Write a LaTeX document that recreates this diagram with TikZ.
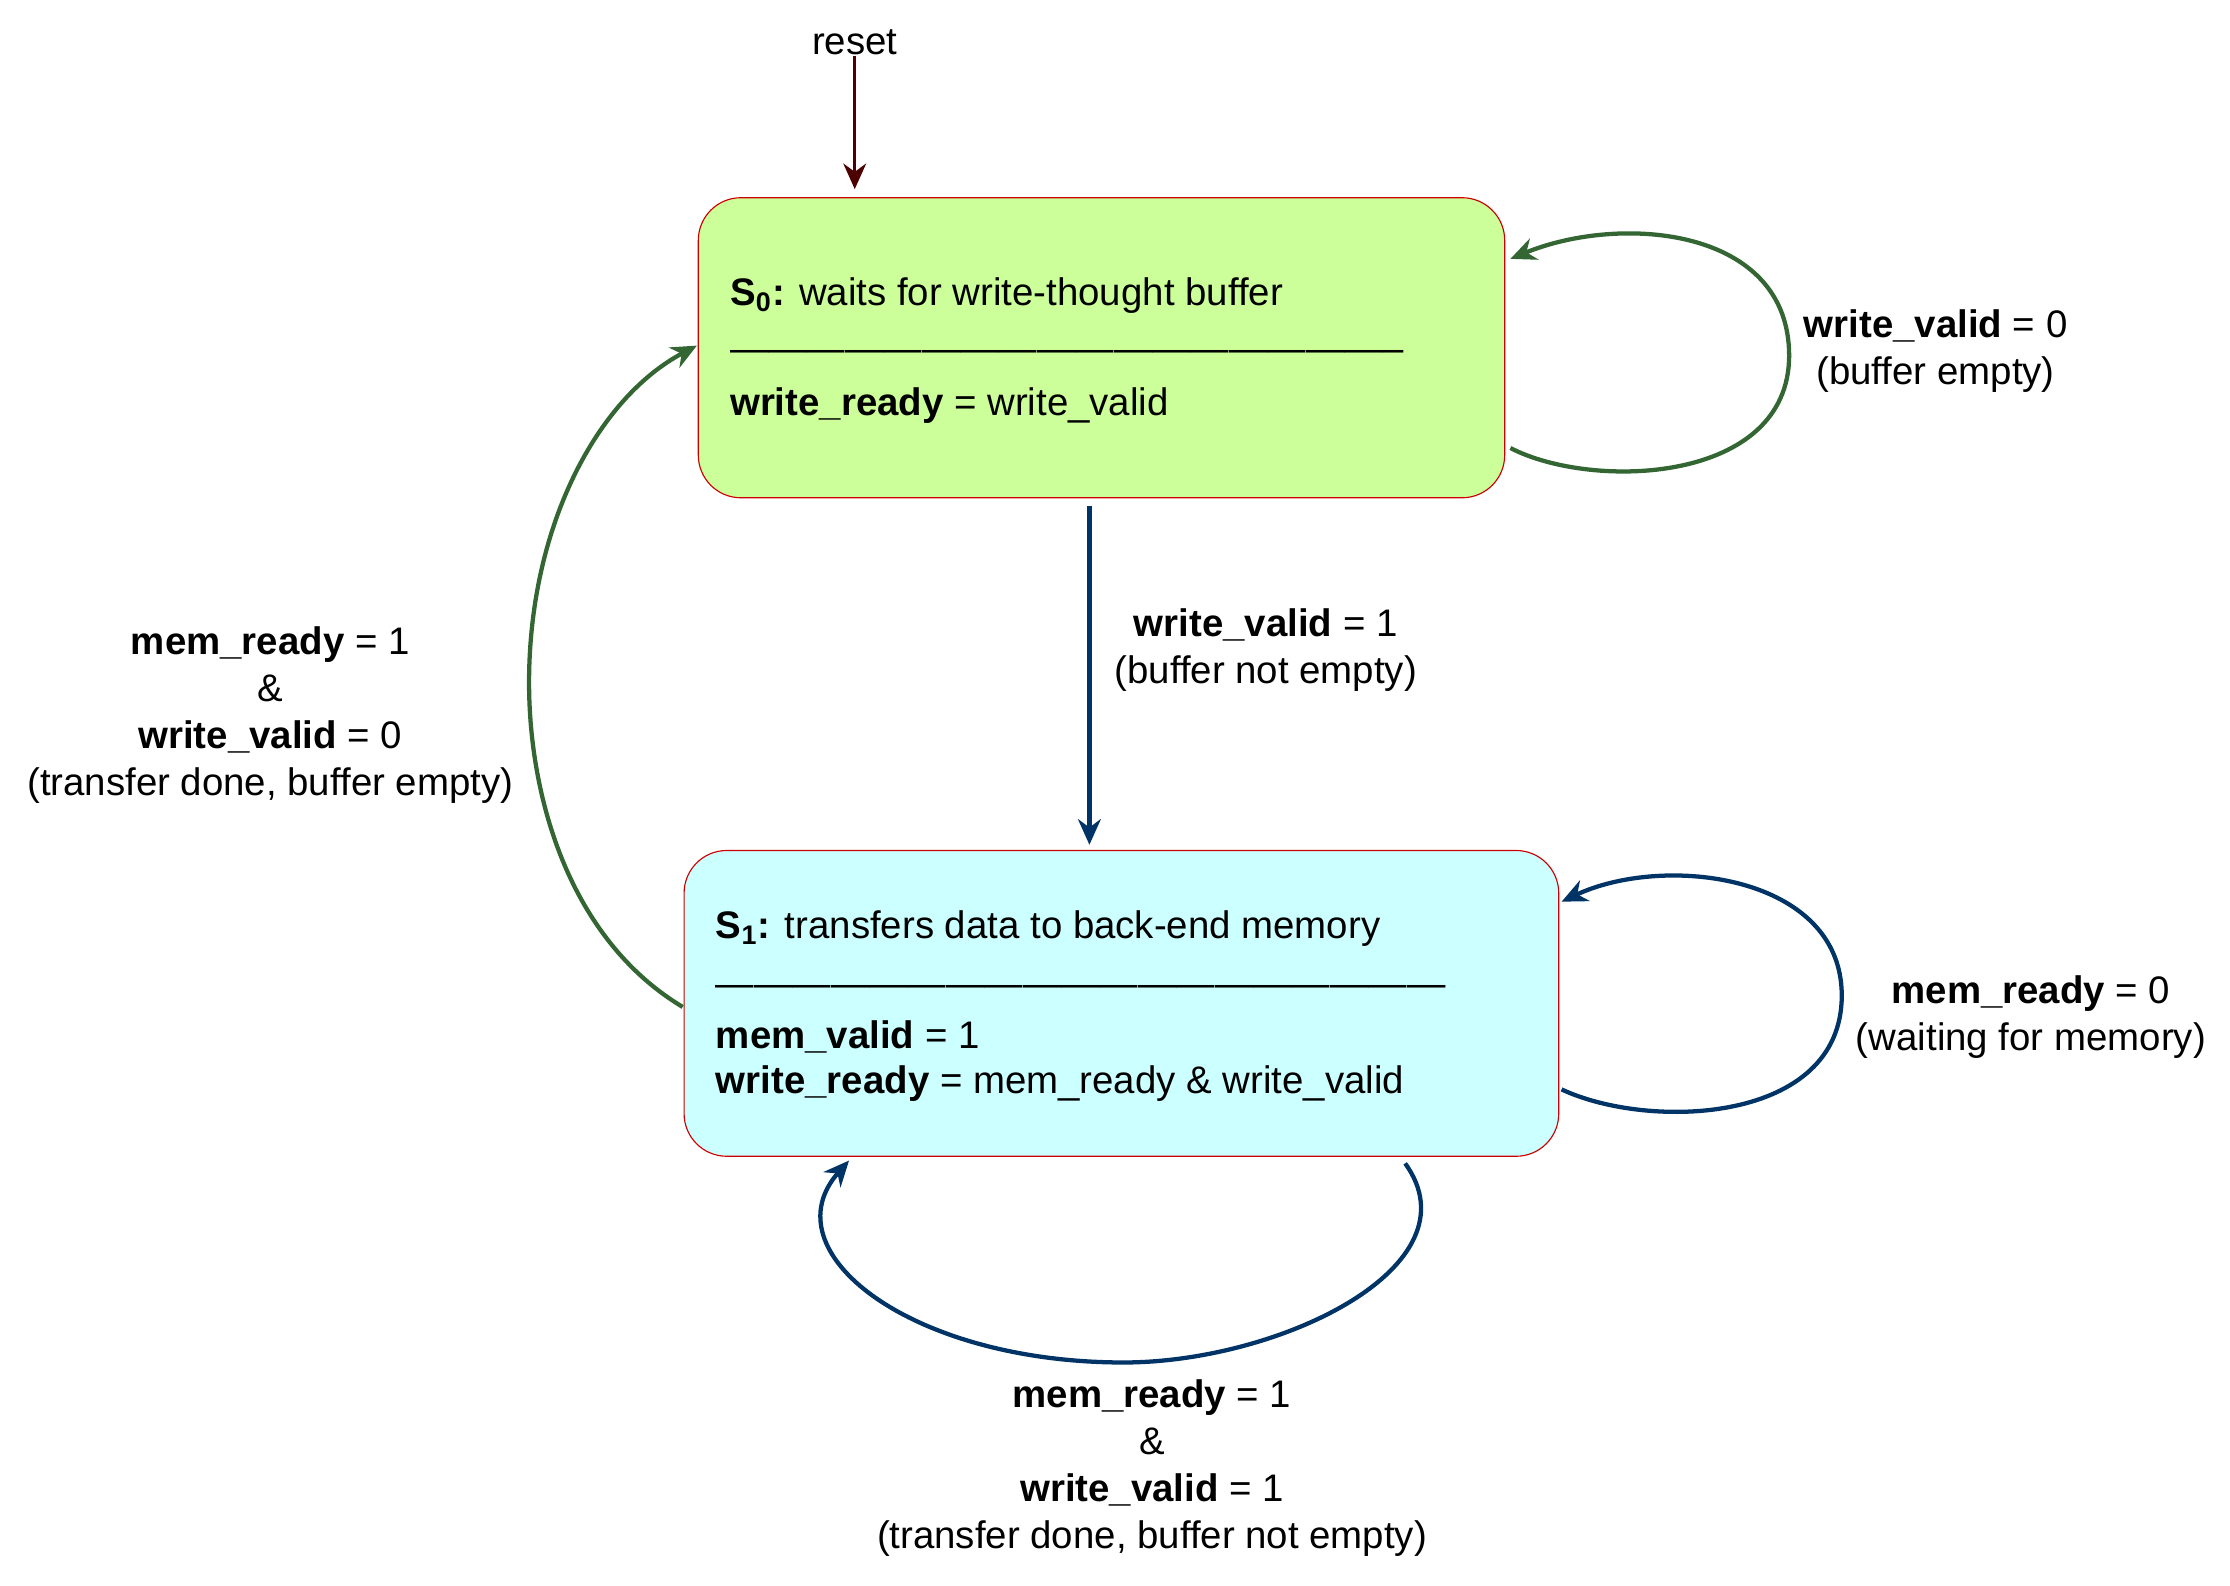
\documentclass[tikz,border=0pt]{standalone}
\usepackage{fontspec}
\setmainfont{Liberation Sans}
\usetikzlibrary{arrows.meta}
\definecolor{gfill}{HTML}{CCFF99}
\definecolor{cfill}{HTML}{CCFFFF}
\definecolor{gline}{HTML}{336633}
\definecolor{bline}{HTML}{003366}
\definecolor{rline}{HTML}{4D0000}
\begin{document}
\begin{tikzpicture}[x=0.5pt,y=-0.5pt,
  state/.style={draw=red!80!black,line width=0.4pt,rounded corners=15pt},
  lbl/.style={font=\fontsize{13.5}{16.5}\selectfont,align=center,inner sep=0pt},
  txt/.style={font=\fontsize{13.5}{16.5}\selectfont,anchor=west,inner sep=0pt},
  ga/.style={draw=gline,line width=1.5pt,-{Stealth[length=9pt,width=8pt]}},
  ba/.style={draw=bline,line width=1.5pt,-{Stealth[length=9pt,width=8pt]}},
  ra/.style={draw=rline,line width=1.2pt,-{Stealth[length=9pt,width=8pt]}}]
\useasboundingbox (0,0) rectangle (1568,1115);
\draw[state,fill=gfill] (491,139) rectangle (1058,350);
\draw[state,fill=cfill] (481,598) rectangle (1096,813);
\node[txt] (t0) at (513,208) {\textbf{S\textsubscript{0}:} waits for write-thought buffer};
\node[txt] (d0) at (513,250) {-----------------------------------------------------};
\node[txt] (w0) at (513,285) {\textbf{write\_ready} = write\_valid};
\node[txt] (t1) at (503,653) {\textbf{S\textsubscript{1}:} transfers data to back-end memory};
\node[txt] (d1) at (503,697) {---------------------------------------------------------};
\node[txt] (m1) at (503,729) {\textbf{mem\_valid} = 1};
\node[txt] (w1) at (503,762) {\textbf{write\_ready} = mem\_ready \& write\_valid};

\node[lbl] (reset) at (601,30) {reset};
\coordinate (r1) at (601,133);
\draw[ra] (reset.south) -- (r1);

\coordinate (a1) at (766,356); \coordinate (a2) at (766,594);
\draw[ba] (a1) -- (a2);
\node[lbl] (la) at (890,457) {\textbf{write\_valid} = 1\\(buffer not empty)};

\coordinate (b1) at (1062,315); \coordinate (b2) at (1062,182);
\draw[ga] (b1) .. controls (1120,345) and (1258,340) .. (1258,250) .. controls (1258,160) and (1140,150) .. (b2);
\node[lbl] (lb) at (1361,247) {\textbf{write\_valid} = 0\\(buffer empty)};

\coordinate (c1) at (480,708); \coordinate (c2) at (490,243);
\draw[ga] (c1) .. controls (400,660) and (372,560) .. (372,480) .. controls (372,370) and (420,280) .. (c2);
\node[lbl] (lc) at (190,503) {\textbf{mem\_ready} = 1\\\&\\\textbf{write\_valid} = 0\\(transfer done, buffer empty)};

\coordinate (d1c) at (1098,766); \coordinate (d2c) at (1098,634);
\draw[ba] (d1c) .. controls (1160,795) and (1295,790) .. (1295,700) .. controls (1295,615) and (1170,600) .. (d2c);
\node[lbl] (ld) at (1428,715) {\textbf{mem\_ready} = 0\\(waiting for memory)};

\coordinate (e1) at (988,818); \coordinate (e2) at (597,816);
\draw[ba] (e1) .. controls (1040,890) and (900,958) .. (790,958) .. controls (640,958) and (540,880) .. (e2);
\node[lbl] (le) at (810,1032) {\textbf{mem\_ready} = 1\\\&\\\textbf{write\_valid} = 1\\(transfer done, buffer not empty)};
\end{tikzpicture}
\end{document}
